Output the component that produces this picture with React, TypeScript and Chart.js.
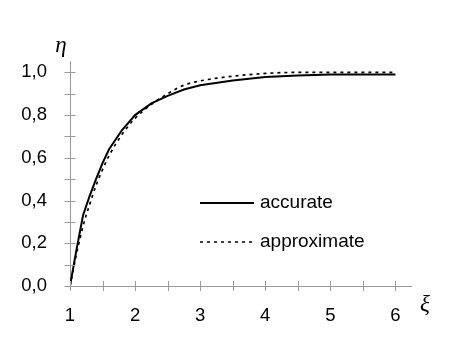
import React, { useEffect, useRef } from "react";
import { Chart, registerables } from "chart.js";

Chart.register(...registerables);

const xiValues = [1, 1.1, 1.2, 1.3, 1.4, 1.5, 1.6, 1.8, 2.0, 2.25, 2.5, 2.75, 3, 3.5, 4, 4.5, 5, 5.5, 6];
const accurate = [0, 0.17, 0.33, 0.42, 0.5, 0.575, 0.64, 0.73, 0.8, 0.855, 0.89, 0.92, 0.94, 0.962, 0.978, 0.985, 0.99, 0.99, 0.99];
const approximate = [0, 0.15, 0.28, 0.38, 0.47, 0.545, 0.61, 0.71, 0.785, 0.85, 0.9, 0.94, 0.96, 0.982, 0.995, 1.0, 1.0, 1.0, 1.0];
const seriesLabels = ["accurate", "approximate"];
const yAxisSymbol = "η";
const xAxisSymbol = "ξ";

const AXIS_COLOR = "#9a9a9a";
const TICK_FONT = { family: "'Liberation Sans', Arial, sans-serif", size: 18.5 };

const decorPlugin = {
  id: "decor",
  afterDraw(chart: any) {
    const ctx = chart.ctx;
    const xs = chart.scales.x;
    const ys = chart.scales.y;
    const area = chart.chartArea;
    ctx.save();
    ctx.strokeStyle = AXIS_COLOR;
    ctx.lineWidth = 1;
    ys.ticks.forEach((t: any) => {
      const py = Math.round(ys.getPixelForValue(t.value)) + 0.5;
      ctx.beginPath();
      ctx.moveTo(area.left - 5.5, py);
      ctx.lineTo(area.left + 5.5, py);
      ctx.stroke();
    });
    xs.ticks.forEach((t: any) => {
      const px = Math.round(xs.getPixelForValue(t.value)) + 0.5;
      ctx.beginPath();
      ctx.moveTo(px, area.bottom - 5);
      ctx.lineTo(px, area.bottom + 5);
      ctx.stroke();
    });
    ctx.fillStyle = "#000";
    ctx.font = "italic 23px 'Liberation Serif', 'Times New Roman', serif";
    ctx.textAlign = "center";
    ctx.textBaseline = "alphabetic";
    ctx.fillText(yAxisSymbol, 61, 52);
    ctx.fillText(xAxisSymbol, 425, 311);
    const ds = chart.data.datasets;
    const rows = [203, 242];
    ctx.font = "19px 'Liberation Sans', Arial, sans-serif";
    ctx.textAlign = "left";
    ctx.textBaseline = "middle";
    ds.forEach((d: any, i: number) => {
      const y = rows[i];
      ctx.strokeStyle = "#000";
      ctx.lineWidth = d.borderWidth;
      ctx.setLineDash(d.borderDash || []);
      ctx.beginPath();
      ctx.moveTo(200, y);
      ctx.lineTo(254, y);
      ctx.stroke();
      ctx.setLineDash([]);
      ctx.fillText(d.label, 260, y);
    });
    ctx.restore();
  },
};

export default function App() {
  const ref = useRef<HTMLCanvasElement | null>(null);
  useEffect(() => {
    if (!ref.current) return;
    const chart = new Chart(ref.current, {
      type: "line",
      data: {
        datasets: [
          {
            label: seriesLabels[0],
            data: xiValues.map((x, i) => ({ x, y: accurate[i] })),
            borderColor: "#000",
            borderWidth: 2,
            pointRadius: 0,
            tension: 0,
            fill: false,
          },
          {
            label: seriesLabels[1],
            data: xiValues.map((x, i) => ({ x, y: approximate[i] })),
            borderColor: "#000",
            borderWidth: 1.7,
            borderDash: [3, 4],
            pointRadius: 0,
            cubicInterpolationMode: "monotone",
            fill: false,
          },
        ],
      },
      options: {
        animation: false,
        responsive: false,
        devicePixelRatio: 1,
        layout: { padding: { top: 61.7, right: 62.3, left: 0, bottom: 0 } },
        plugins: { legend: { display: false }, tooltip: { enabled: false } },
        scales: {
          x: {
            type: "linear",
            min: 1,
            max: 6.25,
            grid: { display: false },
            border: { display: true, color: AXIS_COLOR, width: 1 },
            ticks: {
              stepSize: 0.5,
              includeBounds: false,
              autoSkip: false,
              maxRotation: 0,
              padding: 11,
              color: "#000",
              font: TICK_FONT,
              callback: (v: any) => (Number.isInteger(v) ? String(v) : ""),
            },
            afterFit: (s: any) => {
              s.height = 70;
            },
          },
          y: {
            type: "linear",
            min: 0,
            max: 1.05,
            grid: { display: false },
            border: { display: true, color: AXIS_COLOR, width: 1 },
            ticks: {
              stepSize: 0.1,
              includeBounds: false,
              autoSkip: false,
              padding: 15,
              color: "#000",
              font: TICK_FONT,
              callback: (v: any) => {
                const n = Math.round(v * 10);
                return n % 2 === 0 ? (n / 10).toFixed(1).replace(".", ",") : "";
              },
            },
            afterFit: (s: any) => {
              s.width = 70;
            },
          },
        },
      },
      plugins: [decorPlugin],
    } as any);
    return () => chart.destroy();
  }, []);
  return (
    <div style={{ position: "fixed", left: 0, top: 0, width: 474, height: 356, background: "#fff" }}>
      <canvas ref={ref} width={474} height={356} />
    </div>
  );
}
